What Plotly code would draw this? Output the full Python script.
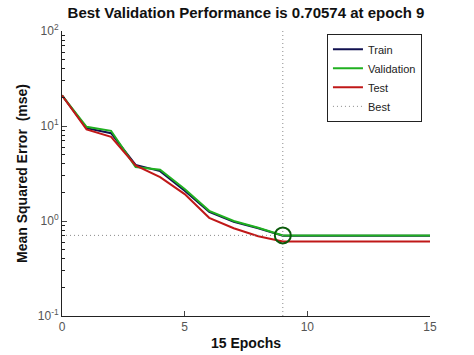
import plotly.graph_objects as go

epochs = list(range(16))
train = [21, 9.5, 8.4, 3.9, 3.35, 2.08, 1.25, 0.98, 0.84, 0.70, 0.70, 0.70, 0.70, 0.70, 0.70, 0.70]
validation = [21, 9.8, 8.9, 3.7, 3.46, 2.17, 1.28, 1.0, 0.85, 0.70574, 0.70574, 0.70574, 0.70574, 0.70574, 0.70574, 0.70574]
test = [21, 9.2, 7.7, 3.85, 2.9, 1.92, 1.08, 0.84, 0.69, 0.61, 0.61, 0.61, 0.61, 0.61, 0.61, 0.61]
best_epoch = 9
best_value = 0.70574
x_ticks = [0, 5, 10, 15]
y_ticks = [0.1, 1, 10, 100]
y_ticktext = ["10<sup>-1</sup>", "10<sup>0</sup>", "10<sup>1</sup>", "10<sup>2</sup>"]

minor_vals = [m * 10 ** d for d in (-1, 0, 1) for m in range(2, 10)]

fig = go.Figure()
fig.add_trace(go.Scatter(x=epochs, y=train, mode="lines", name="Train",
                         line=dict(color="#101050", width=2)))
fig.add_trace(go.Scatter(x=epochs, y=validation, mode="lines", name="Validation",
                         line=dict(color="#20b020", width=2)))
fig.add_trace(go.Scatter(x=epochs, y=test, mode="lines", name="Test",
                         line=dict(color="#c01818", width=2)))
fig.add_trace(go.Scatter(x=[0, best_epoch], y=[best_value, best_value],
                         mode="lines", name="Best", showlegend=True,
                         line=dict(color="#8a8a8a", width=1, dash="1px,3px")))
fig.add_trace(go.Scatter(x=[best_epoch, best_epoch], y=[0.1, 100], mode="lines", showlegend=False,
                         line=dict(color="#8a8a8a", width=1, dash="1px,3px")))
fig.add_trace(go.Scatter(x=[best_epoch], y=[best_value], mode="markers", showlegend=False,
                         marker=dict(symbol="circle-open", size=16, color="#0a5a0a", line=dict(width=2))))

fig.update_layout(
    width=474, height=355,
    margin=dict(l=62, r=44, t=31, b=39),
    paper_bgcolor="white", plot_bgcolor="white",
    font=dict(family="Liberation Sans, Arial", size=12, color="#222"),
    title=dict(text="<b>Best Validation Performance is 0.70574 at epoch 9</b>",
               x=0.5, xanchor="center", xref="paper", y=1 - 13 / 355, yref="container", yanchor="middle",
               font=dict(size=15, color="#111")),
    legend=dict(x=0.72, y=0.99, xanchor="left", yanchor="top",
                bordercolor="#222", borderwidth=1, bgcolor="white",
                font=dict(size=11), itemwidth=30, tracegroupgap=0),
    showlegend=True,
)
fig.update_xaxes(range=[0, 15], tickvals=x_ticks, ticks="inside", ticklen=5, automargin=False,
                 showline=True, linecolor="#222", linewidth=1, showgrid=False, zeroline=False,
                 title=dict(text="<b>15 Epochs</b>", font=dict(size=14, color="#111"), standoff=4),
                 tickfont=dict(size=12, color="#555"))
fig.update_yaxes(type="log", range=[-1, 2], tickvals=y_ticks, ticktext=y_ticktext, automargin=False,
                 ticks="inside", ticklen=5, showline=True, linecolor="#222", linewidth=1,
                 showgrid=False, zeroline=False,
                 minor=dict(tickvals=minor_vals, ticks="inside", ticklen=3, tickcolor="#222"),
                 title=dict(text="<b>Mean Squared Error  (mse)</b>", font=dict(size=14, color="#111"), standoff=6),
                 tickfont=dict(size=12, color="#555"))

fig.write_html("out.html", config={"displayModeBar": False},
               post_script="document.body.style.margin='0';")
